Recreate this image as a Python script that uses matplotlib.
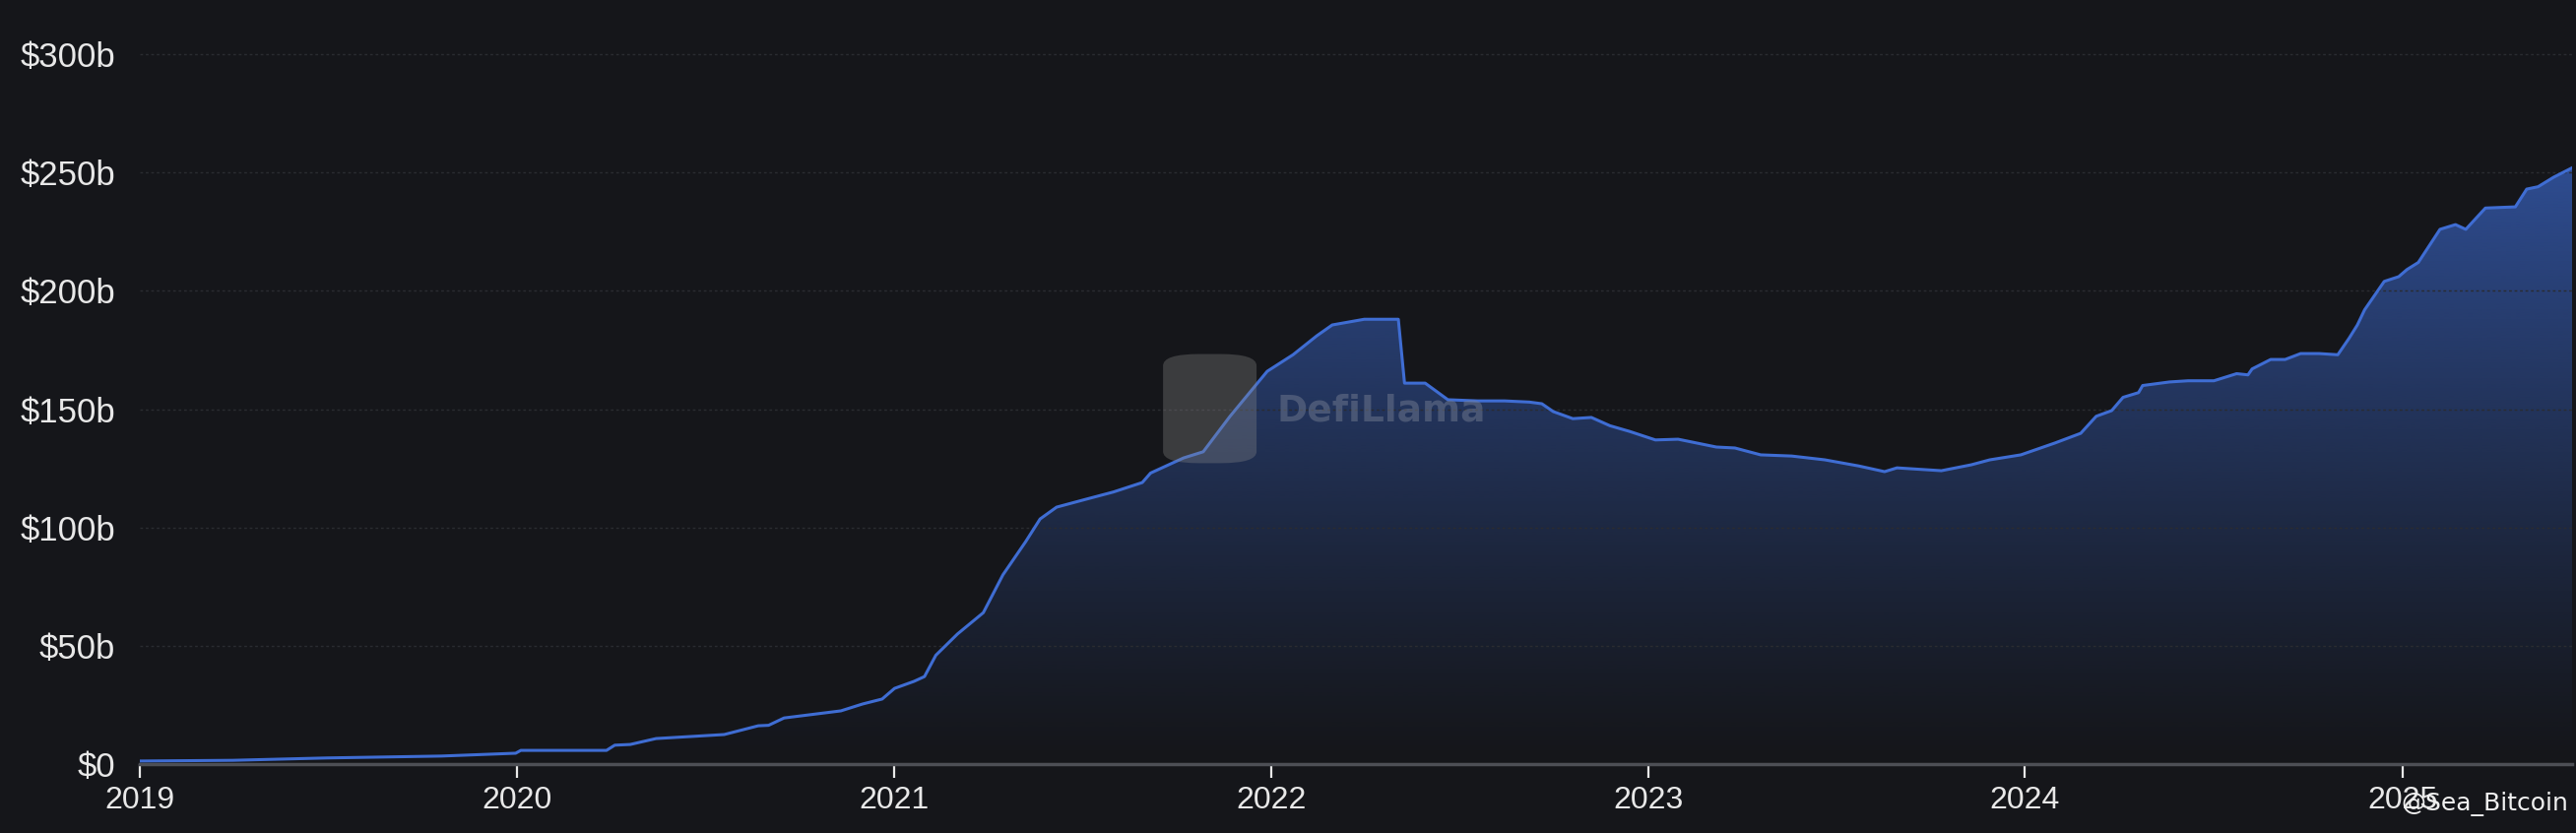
import matplotlib
matplotlib.use("Agg")
import matplotlib.pyplot as plt
import matplotlib.dates as mdates
from matplotlib.patches import FancyBboxPatch, Polygon
from matplotlib.ticker import FuncFormatter
import numpy as np
import pandas as pd

# --- data ($ billions) ---
dates = [
    "2019-01-01", "2019-04-01", "2019-07-01", "2019-10-20", "2019-12-31",
    "2020-01-05", "2020-03-28", "2020-04-05", "2020-04-20", "2020-05-15",
    "2020-07-20", "2020-08-22", "2020-09-01", "2020-09-16", "2020-11-10",
    "2020-12-01", "2020-12-20", "2021-01-01", "2021-01-20", "2021-01-30",
    "2021-02-10", "2021-03-03", "2021-03-28", "2021-04-16", "2021-05-08",
    "2021-05-22", "2021-06-07", "2021-07-06", "2021-08-01", "2021-08-29",
    "2021-09-06", "2021-10-08", "2021-10-27", "2021-11-22", "2021-12-10",
    "2021-12-28", "2022-01-22", "2022-02-14", "2022-03-01", "2022-04-01",
    "2022-05-04", "2022-05-10", "2022-05-30", "2022-06-21", "2022-07-20",
    "2022-08-15", "2022-09-08", "2022-09-20", "2022-10-01", "2022-10-20",
    "2022-11-07", "2022-11-25", "2022-12-14", "2023-01-08", "2023-01-30",
    "2023-03-08", "2023-03-26", "2023-04-20", "2023-05-20", "2023-06-21",
    "2023-07-24", "2023-08-18", "2023-08-30", "2023-10-12", "2023-11-10",
    "2023-11-28", "2023-12-28", "2024-01-30", "2024-02-24", "2024-03-10",
    "2024-03-25", "2024-04-05", "2024-04-20", "2024-04-24", "2024-05-20",
    "2024-06-07", "2024-07-02", "2024-07-24", "2024-08-04", "2024-08-08",
    "2024-08-26", "2024-09-09", "2024-09-24", "2024-10-12", "2024-10-30",
    "2024-11-10", "2024-11-18", "2024-11-25", "2024-12-14", "2024-12-28",
    "2025-01-05", "2025-01-16", "2025-02-06", "2025-02-21", "2025-03-03",
    "2025-03-22", "2025-04-20", "2025-05-01", "2025-05-12", "2025-05-27",
    "2025-06-14",
]
mcap = [
    1.3, 1.6, 2.6, 3.4, 4.6,
    5.8, 5.8, 8.0, 8.3, 10.8,
    12.5, 16.2, 16.4, 19.5, 22.5,
    25.4, 27.5, 32.0, 35.0, 37.0,
    46.0, 55.0, 64.0, 80.0, 94.0,
    103.6, 108.6, 112.0, 115.0, 119.0,
    123.0, 129.4, 132.0, 147.0, 156.5,
    166.0, 173.0, 181.0, 185.6, 188.0,
    188.0, 161.0, 161.0, 154.0, 153.5,
    153.5, 153.0, 152.3, 149.0, 146.0,
    146.5, 143.0, 140.6, 137.0, 137.3,
    134.0, 133.6, 130.7, 130.2, 128.6,
    126.0, 123.6, 125.2, 124.0, 126.5,
    128.6, 130.7, 135.7, 139.8, 147.0,
    149.4, 155.0, 157.0, 160.0, 161.5,
    162.0, 162.0, 165.0, 164.5, 167.0,
    171.0, 171.0, 173.5, 173.5, 173.0,
    180.0, 185.6, 192.0, 204.0, 206.0,
    209.0, 212.0, 226.0, 228.0, 226.0,
    235.0, 235.5, 243.0, 244.0, 248.0,
    252.0,
]
y_ticks = [0, 50, 100, 150, 200, 250, 300]

BG = "#15161a"
LINE = "#3f6dd3"

x = mdates.date2num(pd.to_datetime(dates))
y = np.array(mcap)

fig = plt.figure(figsize=(26.16, 8.46), dpi=100, facecolor=BG)
ax = fig.add_axes([0.0543, 0.0827, 0.9442, 0.909])
ax.set_facecolor(BG)

ax.set_xlim(x[0], x[-1])
ax.set_ylim(0, 320)

# gradient fill under the line, clipped to the area
vals = np.linspace(0, 320, 256).reshape(-1, 1)
rgba = np.zeros((256, 2, 4))
rgba[..., 0] = 0x3a / 255
rgba[..., 1] = 0x66 / 255
rgba[..., 2] = 0xc8 / 255
rgba[..., 3] = np.clip(0.68 * (vals / 250.0) ** 1.15, 0, 0.8)
im = ax.imshow(rgba, extent=[x[0], x[-1], 0, 320], origin="lower",
               aspect="auto", zorder=1, interpolation="bilinear")
poly = Polygon(np.column_stack([np.r_[x[0], x, x[-1]], np.r_[0, y, 0]]),
               closed=True, facecolor="none", edgecolor="none")
ax.add_patch(poly)
im.set_clip_path(poly)

ax.plot(x, y, color=LINE, lw=2.2, zorder=3)

# grid + axes
ax.set_yticks(y_ticks)
ax.yaxis.set_major_formatter(FuncFormatter(lambda v, p: "$0" if v == 0 else f"${int(v)}b"))
ax.grid(axis="y", color="#2a2c31", lw=1, ls=(0, (2, 2)), zorder=0)
ax.xaxis.set_major_locator(mdates.YearLocator())
ax.xaxis.set_major_formatter(mdates.DateFormatter("%Y"))

for s in ["top", "right", "left"]:
    ax.spines[s].set_visible(False)
ax.spines["bottom"].set_color("#4d4f55")
ax.spines["bottom"].set_linewidth(2.5)
ax.spines["bottom"].set_zorder(4)

ax.tick_params(axis="y", length=0, pad=18, labelsize=25, labelcolor="#e8e8e8")
ax.tick_params(axis="x", length=10, width=1.6, color="#e8e8e8", pad=6,
               labelsize=23, labelcolor="#e8e8e8")
for lab in ax.get_xticklabels() + ax.get_yticklabels():
    lab.set_fontfamily("Liberation Sans")

# DefiLlama watermark
logo = FancyBboxPatch((0.4515, 0.444), 0.0363, 0.131, boxstyle="round,pad=0,rounding_size=0.014",
                      transform=fig.transFigure, facecolor="#8a8a8a", edgecolor="none",
                      alpha=0.33, zorder=5)
fig.patches.append(logo)
fig.text(0.4955, 0.507, "DefiLlama", fontsize=27, fontweight="bold", color="#7a8296",
         alpha=0.45, va="center", ha="left", family="DejaVu Sans")

# user watermark
fig.text(0.997, 0.035, "@Sea_Bitcoin", fontsize=18, color="#f0f0f0", ha="right",
         va="center", family="DejaVu Sans")

fig.savefig("out.png", dpi=100, facecolor=BG)
